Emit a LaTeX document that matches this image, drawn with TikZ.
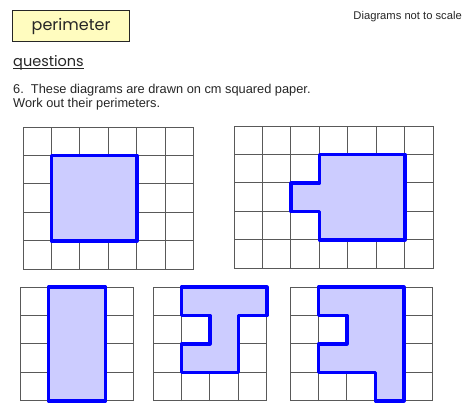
\documentclass[tikz,border=0pt]{standalone}
\usepackage{fontspec}
\setmainfont{Liberation Sans}
\newfontfamily\handfont{Poppins}
\begin{document}
\begin{tikzpicture}[x=1pt,y=-1pt,
  gridline/.style={draw=black!65,line width=1pt},
  shapefill/.style={fill=blue!20,draw=blue,line width=3.2pt,line join=round},
  bodytext/.style={font=\fontsize{12.8}{14}\selectfont,color=black!85,anchor=base west,inner sep=0pt},
  cellscope/.style={x=28.5pt,y=-28.5pt}]
\useasboundingbox (0,0) rectangle (474,416);
% header
\node[draw=black!85,fill=yellow!25,line width=1.2pt,minimum width=117pt,minimum height=31pt,anchor=north west,inner sep=0pt] (title) at (12,10) {};
\node[font=\handfont\fontsize{16}{18}\selectfont,color=black!85] (titletext) at (title.center) {perimeter};
\node[font=\fontsize{11.2}{13}\selectfont,color=black!85,anchor=base east,inner sep=0pt] (note) at (462,19) {Diagrams not to scale};
\node[font=\handfont\fontsize{14.5}{16}\selectfont,color=black!85,anchor=base west,inner sep=0pt] (quest) at (13,66) {questions};
\draw[black!85,line width=0.8pt] ([yshift=-2pt]quest.base west) -- ([yshift=-2pt]quest.base east);
\node[bodytext] (line1) at (13,93) {6.\ \ These diagrams are drawn on cm squared paper.};
\node[bodytext] (line2) at (13,107) {Work out their perimeters.};
% grid 1
\begin{scope}[shift={(23,127)},cellscope]
  \draw[gridline] (0,0) grid (6,5);
  \draw[shapefill] (1,1) rectangle (4,4);
\end{scope}
% grid 2
\begin{scope}[shift={(234,126)},cellscope]
  \draw[gridline] (0,0) grid (7,5);
  \draw[shapefill] (3,1) -- (6,1) -- (6,4) -- (3,4) -- (3,3) -- (2,3) -- (2,2) -- (3,2) -- cycle;
\end{scope}
% grid 3
\begin{scope}[shift={(20,287)},cellscope]
  \draw[gridline] (0,0) grid (4,4);
  \draw[shapefill] (1,0) rectangle (3,4);
\end{scope}
% grid 4
\begin{scope}[shift={(153,287)},cellscope]
  \draw[gridline] (0,0) grid (4,4);
  \draw[shapefill] (1,0) -- (4,0) -- (4,1) -- (3,1) -- (3,3) -- (1,3) -- (1,2) -- (2,2) -- (2,1) -- (1,1) -- cycle;
\end{scope}
% grid 5
\begin{scope}[shift={(290,287)},cellscope]
  \draw[gridline] (0,0) grid (5,4);
  \draw[shapefill] (1,0) -- (4,0) -- (4,4) -- (3,4) -- (3,3) -- (1,3) -- (1,2) -- (2,2) -- (2,1) -- (1,1) -- cycle;
\end{scope}
\end{tikzpicture}
\end{document}
